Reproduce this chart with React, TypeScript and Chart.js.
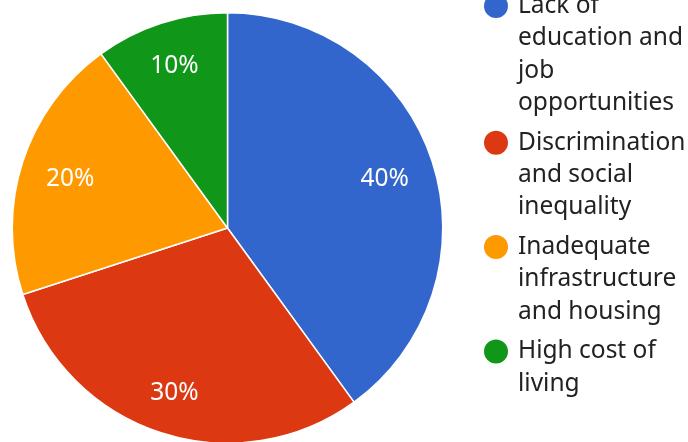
import React, { useEffect, useRef } from "react";
import { Chart, registerables } from "chart.js";

Chart.register(...registerables);

const categories = [
  "Lack of education and job opportunities",
  "Discrimination and social inequality",
  "Inadequate infrastructure and housing",
  "High cost of living",
];
const values = [40, 30, 20, 10];
const colors = ["#3366CC", "#DC3912", "#FF9900", "#109618"];

const FONT = "'Noto Sans', 'DejaVu Sans', sans-serif";
const FS = 24.5;

export default function App() {
  const ref = useRef<HTMLCanvasElement>(null);

  useEffect(() => {
    if (!ref.current) return;

    const sliceLabels = {
      id: "sliceLabels",
      afterDatasetsDraw(chart: any) {
        const ctx = chart.ctx;
        const meta = chart.getDatasetMeta(0);
        const total = values.reduce((a, b) => a + b, 0);
        ctx.save();
        ctx.fillStyle = "#ffffff";
        ctx.font = `${FS}px ${FONT}`;
        ctx.textAlign = "center";
        ctx.textBaseline = "alphabetic";
        meta.data.forEach((arc: any, i: number) => {
          const p = arc.getProps(["x", "y", "startAngle", "endAngle", "outerRadius"], true);
          const mid = (p.startAngle + p.endAngle) / 2;
          const pct = Math.round((values[i] / total) * 100) + "%";
          const w = ctx.measureText(pct).width;
          const h = 28;
          const c = Math.cos(mid);
          const s = Math.sin(mid);
          const R = p.outerRadius;
          const r = R * 0.895 - (Math.abs(c) * w) / 2 - (Math.abs(s) * h) / 2;
          const x = p.x + c * r;
          const y = p.y + s * r;
          ctx.fillText(pct, x, y + FS * 0.357);
        });
        ctx.restore();
      },
    };

    const sideLegend = {
      id: "sideLegend",
      afterDraw(chart: any) {
        const ctx = chart.ctx;
        ctx.save();
        ctx.font = `${FS}px ${FONT}`;
        ctx.textBaseline = "middle";
        ctx.textAlign = "left";
        const textX = 518;
        const markerX = 496;
        const maxW = 688 - textX + 2;
        const lineH = 32.3;
        const gap = 7.5;
        let y = 6;
        categories.forEach((cat, i) => {
          const words = cat.split(" ");
          const lines: string[] = [];
          let cur = "";
          words.forEach((w) => {
            const test = cur ? cur + " " + w : w;
            if (cur && ctx.measureText(test).width > maxW) {
              lines.push(cur);
              cur = w;
            } else {
              cur = test;
            }
          });
          if (cur) lines.push(cur);
          ctx.fillStyle = colors[i];
          ctx.beginPath();
          ctx.arc(markerX, y, 12, 0, Math.PI * 2);
          ctx.fill();
          ctx.fillStyle = "#222222";
          lines.forEach((ln, j) => {
            ctx.fillText(ln, textX, y + j * lineH);
          });
          y += lines.length * lineH + gap;
        });
        ctx.restore();
      },
    };

    const chart = new Chart(ref.current, {
      type: "pie",
      data: {
        labels: categories,
        datasets: [
          {
            data: values,
            backgroundColor: colors,
            borderColor: "#ffffff",
            borderWidth: 1.5,
          },
        ],
      },
      options: {
        responsive: false,
        animation: false,
        layout: { padding: { left: 11.5, top: 12, right: 244.5, bottom: 6 } },
        plugins: {
          legend: { display: false },
          tooltip: { enabled: false },
        },
      },
      plugins: [sliceLabels, sideLegend],
    });
    return () => chart.destroy();
  }, []);

  return (
    <div
      style={{
        position: "fixed",
        left: 0,
        top: 0,
        width: 688,
        height: 442,
        overflow: "hidden",
        background: "#ffffff",
      }}
    >
      <canvas ref={ref} width={688} height={450} style={{ width: 688, height: 450, display: "block" }} />
    </div>
  );
}
